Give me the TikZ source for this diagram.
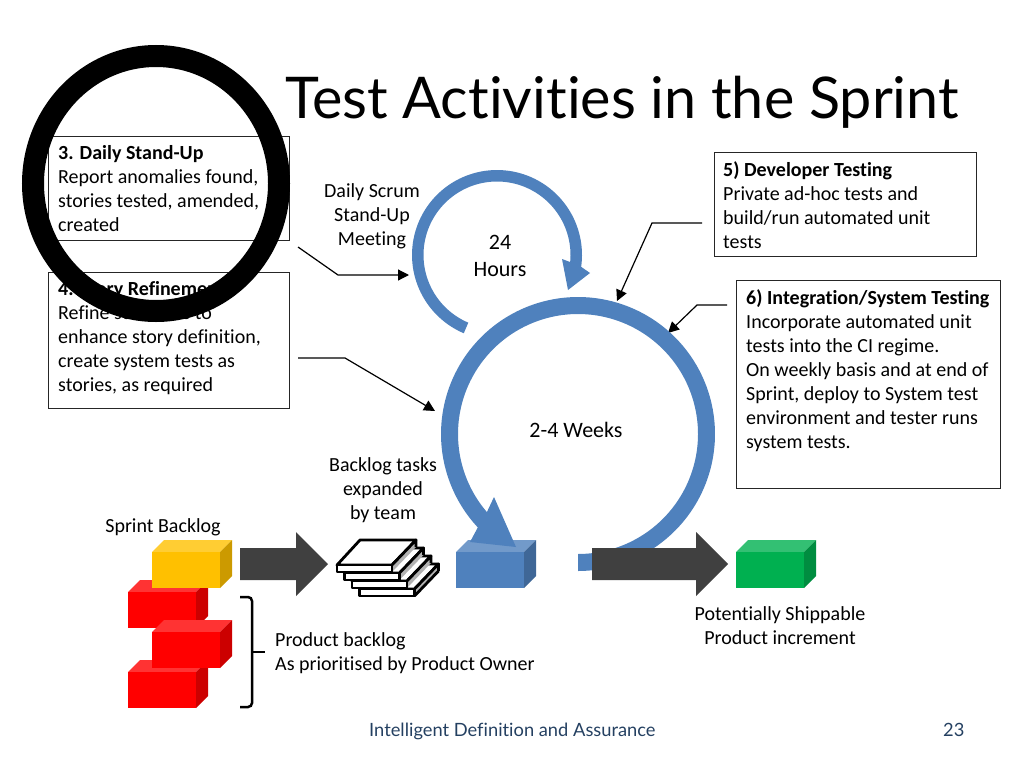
\documentclass[tikz,border=0pt]{standalone}
\usepackage{fontspec}
\setmainfont[Ligatures=NoCommon]{Carlito}
\newfontfamily\titlefont[Ligatures=NoCommon]{Lato}
\usetikzlibrary{arrows.meta}
\definecolor{ringblue}{HTML}{4F81BD}
\definecolor{ringbluetop}{HTML}{729ACA}
\definecolor{ringblueside}{HTML}{3F6797}
\definecolor{blockred}{HTML}{FF0000}
\definecolor{blockredtop}{HTML}{FF3333}
\definecolor{blockredside}{HTML}{CC0000}
\definecolor{blockamber}{HTML}{FFC000}
\definecolor{blockambertop}{HTML}{FFCD33}
\definecolor{blockamberside}{HTML}{CC9A00}
\definecolor{blockgreen}{HTML}{00B050}
\definecolor{blockgreentop}{HTML}{33C073}
\definecolor{blockgreenside}{HTML}{008D40}
\definecolor{heavygray}{HTML}{404040}
\definecolor{footblue}{HTML}{244061}
\newcommand{\workblock}[6]{
    \fill[#4] (#1,#2+12) -- (#1+12,#2) -- (#1+80,#2) -- (#1+68,#2+12) -- cycle;
    \fill[#5] (#1+68,#2+12) -- (#1+80,#2) -- (#1+80,#2+#3-12) -- (#1+68,#2+#3) -- cycle;
    \fill[#6] (#1,#2+12) rectangle (#1+68,#2+#3);
}
\newcommand{\heavyarrow}[3]{
    \fill[heavygray] (#1,548) -- (#2,548) -- (#2,532) -- (#3,564)
        -- (#2,596) -- (#2,580) -- (#1,580) -- cycle;
}
\tikzset{
    infobox/.style={draw=black!85, line width=1.4pt, fill=white, inner sep=0pt, anchor=north west},
    boxtext/.style={anchor=north west, align=left, inner xsep=10pt, inner ysep=9pt, font=\fontsize{20}{24}\selectfont},
    plaintext/.style={align=center, inner sep=0pt, font=\fontsize{20}{24}\selectfont},
    bigtext/.style={align=center, inner sep=0pt, font=\fontsize{22}{26.5}\selectfont},
    leader/.style={black, line width=1.2pt, -{Triangle[length=11pt,width=11pt]}}
}
\begin{document}
\begin{tikzpicture}[x=1pt,y=-1pt]
    \useasboundingbox (0,0) rectangle (1024,768);

    \node[anchor=base west, inner sep=0pt, font=\titlefont\fontsize{57.5}{70}\selectfont]
        (slidetitle) at (285,118) {Test Activities in the Sprint};

    \node[infobox, minimum width=241pt, minimum height=104pt] (standup) at (48,136) {};
    \node[boxtext] (standuptext) at (standup.north west)
        {\textbf{3. Daily Stand-Up}\\Report anomalies found,\\stories tested, amended,\\created};
    \node[infobox, minimum width=241pt, minimum height=136pt] (refine) at (48,272) {};
    \node[boxtext] (refinetext) at (refine.north west)
        {\textbf{4. Story Refinement}\\Refine scenarios to\\enhance story definition,\\create system tests as\\stories, as required};
    \node[infobox, minimum width=262pt, minimum height=104pt] (devtest) at (714,152) {};
    \node[boxtext, inner xsep=9pt] (devtesttext) at (devtest.north west)
        {\textbf{5) Developer Testing}\\Private ad-hoc tests and\\build/run automated unit\\tests};
    \node[infobox, minimum width=264pt, minimum height=208pt] (systest) at (736,280) {};
    \node[boxtext] (systesttext) at (systest.north west)
        {\textbf{6) Integration/System Testing}\\Incorporate automated unit\\tests into the CI regime.\\On weekly basis and at end of\\Sprint, deploy to System test\\environment and tester runs\\system tests.};

    \draw[black, line width=22pt] (156,183.5) ellipse (123 and 127.5);

    \node[plaintext] (scrumlabel) at (372,216) {Daily Scrum\\Stand-Up\\Meeting};
    \node[bigtext] (hourslabel) at (500,256) {24\\Hours};
    \node[bigtext] (weekslabel) at (576,430) {2-4 Weeks};
    \node[plaintext] (expandlabel) at (383,490) {Backlog tasks\\expanded\\by team};
    \node[plaintext] (sprintlabel) at (163,527) {Sprint Backlog};
    \node[plaintext, align=left, anchor=west] (productlabel) at (275,653)
        {Product backlog\\As prioritised by Product Owner};
    \node[plaintext] (shiplabel) at (780,626) {Potentially Shippable\\Product increment};
    \node[anchor=base west, inner sep=0pt, text=footblue, font=\titlefont\fontsize{18.3}{22}\selectfont]
        (footlabel) at (369,736) {Intelligent Definition and Assurance};
    \node[anchor=base west, inner sep=0pt, text=footblue, font=\titlefont\fontsize{18.3}{22}\selectfont]
        (pagelabel) at (943,736) {23};

    \coordinate (standupfoot) at (298,247);
    \coordinate (standupbend) at (338,275);
    \coordinate (standuptip) at (409,275);
    \coordinate (refinefoot) at (298,358);
    \coordinate (refinebend) at (345,358);
    \coordinate (refinetip) at (435,411);
    \coordinate (devfoot) at (702,223);
    \coordinate (devbend) at (652,223);
    \coordinate (devtip) at (617,301);
    \coordinate (sysfoot) at (727,305);
    \coordinate (sysbend) at (697,305);
    \coordinate (systip) at (668,333);
    \draw[leader] (standupfoot) -- (standupbend) -- (standuptip);
    \draw[leader] (refinefoot) -- (refinebend) -- (refinetip);
    \draw[leader] (devfoot) -- (devbend) -- (devtip);
    \draw[leader] (sysfoot) -- (sysbend) -- (systip);

    \fill[ringblue] plot[domain=113:368,samples=100] ({497+85*cos(\x)},{255+85*sin(\x)})
        -- (590,273) -- (568,290) -- (562,259)
        -- plot[domain=365.5:113,samples=100] ({497+73.5*cos(\x)},{255+73.5*sin(\x)}) -- cycle;

    \workblock{128}{660}{48}{blockredtop}{blockredside}{blockred}
    \workblock{128}{580}{48}{blockredtop}{blockredside}{blockred}
    \workblock{152}{620}{48}{blockredtop}{blockredside}{blockred}
    \workblock{152}{540}{48}{blockambertop}{blockamberside}{blockamber}
    \workblock{456}{540}{48}{ringbluetop}{ringblueside}{ringblue}
    \workblock{736}{540}{48}{blockgreentop}{blockgreenside}{blockgreen}

    \fill[ringblue] plot[domain=90:-223,samples=160] ({578+137*cos(\x)},{434+137*sin(\x)})
        -- (470,542) -- (516,547) -- (494,497)
        -- plot[domain=-220.6:90,samples=160] ({578+120*cos(\x)},{434+120*sin(\x)}) -- cycle;

    \heavyarrow{240}{296}{328}
    \heavyarrow{592}{696}{728}

    \foreach \sheet in {3,2,1,0} {
        \draw[black, line width=2.8pt, line join=round, fill=white]
            (360+7.5*\sheet,540+8*\sheet) -- (416+7.5*\sheet,540+8*\sheet)
            -- (392+7.5*\sheet,565+8*\sheet) -- (337+7.5*\sheet,565+8*\sheet) -- cycle;
        \fill[black!30]
            (416+7.5*\sheet,540+8*\sheet) -- (416+7.5*\sheet,547+8*\sheet)
            -- (392+7.5*\sheet,572+8*\sheet) -- (392+7.5*\sheet,565+8*\sheet) -- cycle;
        \draw[black, line width=2.8pt, line join=round]
            (392+7.5*\sheet,565+8*\sheet) -- (416+7.5*\sheet,540+8*\sheet) -- (416+7.5*\sheet,547+8*\sheet);
        \draw[black, line width=2.8pt, line join=round, fill=white]
            (337+7.5*\sheet,565+8*\sheet) rectangle (392+7.5*\sheet,572+8*\sheet);
    }
    \draw[black, line width=2.8pt, line join=round] (414.5,596) -- (438.5,571);

    \coordinate (bracetop) at (240,597);
    \coordinate (braceedgetop) at (252,597);
    \coordinate (braceedgefoot) at (252,707);
    \coordinate (bracefoot) at (240,707);
    \coordinate (bracemid) at (252,652);
    \coordinate (bracetip) at (265,652);
    \draw[black, line width=2.5pt, rounded corners=4pt] (bracetop) -- (braceedgetop) -- (braceedgefoot) -- (bracefoot);
    \draw[black, line width=2.5pt] (bracemid) -- (bracetip);
\end{tikzpicture}
\end{document}
